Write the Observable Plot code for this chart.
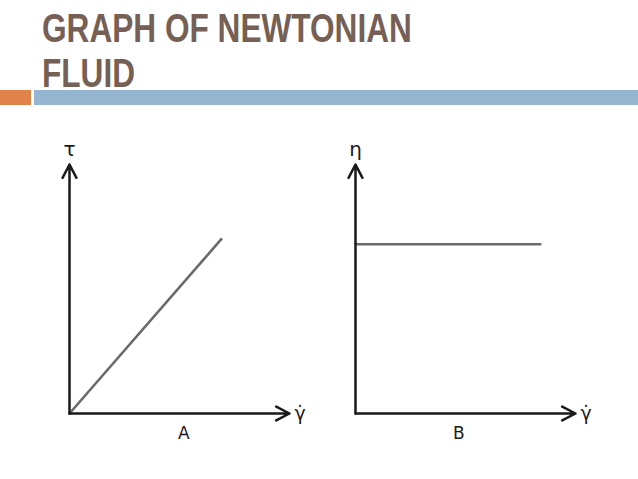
<!DOCTYPE html>
<html>
<head>
<meta charset="utf-8">
<script src="https://cdn.jsdelivr.net/npm/d3@7"></script>
<script src="https://cdn.jsdelivr.net/npm/@observablehq/plot@0.6"></script>
<style>
  html, body { margin: 0; padding: 0; background: #fff; }
  #page { position: relative; width: 638px; height: 479px; overflow: hidden; }
  #header { position: relative; width: 638px; height: 120px; }
  #title { position: absolute; left: 42px; top: 6px; font-family: "Liberation Sans", Arial, sans-serif;
           font-weight: bold; font-size: 40px; line-height: 45px; color: #765f55; margin: 0;
           transform: scaleX(0.79); transform-origin: 0 0; white-space: nowrap; }
  .bar { position: absolute; top: 90px; height: 15px; }
</style>
</head>
<body>
<div id="page">
  <div id="header">
    <div id="title">GRAPH OF NEWTONIAN<br>FLUID</div>
    <div class="bar" style="left:0;width:31px;background:#e0834a"></div>
    <div class="bar" style="left:34px;width:604px;background:#94b4d0"></div>
  </div>
  <div id="chart"></div>
</div>
<script>
// Panels and labels
const panels = ["A", "B"];
const yLabels = ["τ", "η"];
const xLabel = "γ̇";
const axisMax = 1;

// Series (normalized shear rate / response)
const shearA = [0, 0.69];
const stressA = [0, 0.70];
const shearB = [0, 0.84];
const viscosityB = [0.68, 0.68];

// Panel label positions along x (fraction of axis)
const panelLabelX = [0.52, 0.47];

const curves = [
  ...shearA.map((x, i) => ({fx: "A", x, y: stressA[i]})),
  ...shearB.map((x, i) => ({fx: "B", x, y: viscosityB[i]}))
];

const axes = panels.flatMap(p => [
  {fx: p, x1: 0, y1: 0, x2: 0, y2: axisMax},
  {fx: p, x1: 0, y1: 0, x2: axisMax, y2: 0}
]);

const yLab = panels.map((p, i) => ({fx: p, x: 0, y: axisMax, t: yLabels[i]}));
const xLab = panels.map(p => ({fx: p, x: axisMax, y: 0, t: xLabel}));
const pLab = panels.map((p, i) => ({fx: p, x: panelLabelX[i], y: 0, t: p}));

const chart = Plot.plot({
  width: 638,
  height: 359,
  marginLeft: 69,
  marginRight: 63,
  marginTop: 44,
  marginBottom: 66,
  style: {fontFamily: "DejaVu Sans, sans-serif", background: "transparent"},
  fx: {domain: panels, axis: null, paddingInner: 0.2308, paddingOuter: 0},
  x: {domain: [0, axisMax], axis: null},
  y: {domain: [0, axisMax], axis: null},
  marks: [
    Plot.line(curves, {fx: "fx", x: "x", y: "y", stroke: "#6a6a6a", strokeWidth: 2.6}),
    Plot.arrow(axes, {fx: "fx", x1: "x1", y1: "y1", x2: "x2", y2: "y2", stroke: "#1a1a1a", strokeWidth: 2.5, headLength: 9, headAngle: 55}),
    Plot.text(yLab, {fx: "fx", x: "x", y: "y", text: "t", dy: -15, fontSize: 20, fill: "#1a1a1a"}),
    Plot.text(xLab, {fx: "fx", x: "x", y: "y", text: "t", dx: 5, dy: 0, fontSize: 19, textAnchor: "start", fill: "#1a1a1a"}),
    Plot.text(pLab, {fx: "fx", x: "x", y: "y", text: "t", dy: 20, fontSize: 17, fill: "#1a1a1a"})
  ]
});
document.getElementById("chart").appendChild(chart);
</script>
</body>
</html>
